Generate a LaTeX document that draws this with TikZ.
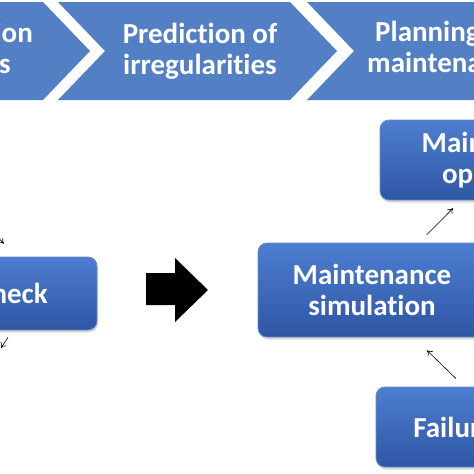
\documentclass[tikz,border=0pt]{standalone}
\usepackage{fontspec}
\setmainfont{Carlito}[Ligatures=NoCommon]
\usetikzlibrary{shadows,arrows.meta}
\definecolor{bannerblue}{RGB}{83,128,196}
\definecolor{boxtop}{RGB}{78,126,208}
\definecolor{boxbot}{RGB}{46,86,164}
\definecolor{boxline}{RGB}{100,140,205}
\begin{document}
\begin{tikzpicture}[x=1pt,y=-1pt,>={To[length=5pt,width=7pt]},
    bigfont/.style={font=\bfseries\fontsize{29}{31}\selectfont},
    chevtext/.style={bigfont, text=white, align=center, inner sep=0pt},
    stepbox/.style={bigfont, text=white, align=center, rounded corners=9pt,
        draw=boxline, line width=0.8pt, top color=boxtop, bottom color=boxbot,
        drop shadow={opacity=0.3, shadow xshift=1pt, shadow yshift=-2.5pt}},
    link/.style={->, line width=0.6pt}]
    \useasboundingbox (0,0) rectangle (474,474);
    \clip (0,0) rectangle (474,474);

    % banner of chevrons
    \fill[bannerblue] (-40,2) -- (43,2) -- (90,51) -- (43,100) -- (-40,100) -- cycle;
    \fill[bannerblue] (58,2) -- (290,2) -- (337,51) -- (290,100) -- (58,100) -- (105,51) -- cycle;
    \fill[bannerblue] (307,2) -- (520,2) -- (520,100) -- (307,100) -- (354,51) -- cycle;
    \node[chevtext, anchor=base east] (ion) at (33,42) {ion};
    \node[chevtext, anchor=base east] (s) at (11,73) {s};
    \node[chevtext] (pred) at (200,51) {Prediction of\\irregularities};
    \node[chevtext, anchor=base west] (plan) at (375,41) {Planning};
    \node[chevtext, anchor=base west] (maint) at (367,72) {maintenance};

    % boxes
    \node[stepbox, minimum width=170, minimum height=73] (chk) at (12,293.5) {Check};
    \node[stepbox, minimum width=228, minimum height=94] (sim) at (372,290) {Maintenance\\simulation};
    \node[stepbox, minimum width=242, minimum height=80] (op) at (501,160) {Maintenance\\operation};
    \node[stepbox, minimum width=156, minimum height=80] (fail) at (454,427) {Failure};

    % big arrow
    \fill[black] (146,273) -- (175,273) -- (175,258) -- (208,290) -- (175,322) -- (175,305) -- (146,305) -- cycle;

    % links
    \coordinate (cin) at (-20,220);
    \coordinate (cout) at (1,348);
    \draw[link] (cin) -- ([shift={(-8pt,13pt)}]chk.north);
    \draw[link] ([shift={(-4pt,-7pt)}]chk.south) -- (cout);
    \draw[link, shorten <=11pt, shorten >=11pt] (sim) -- (op);
    \draw[link] ([shift={(2pt,8pt)}]fail.north) -- ([shift={(55pt,-13pt)}]sim.south);
\end{tikzpicture}
\end{document}
